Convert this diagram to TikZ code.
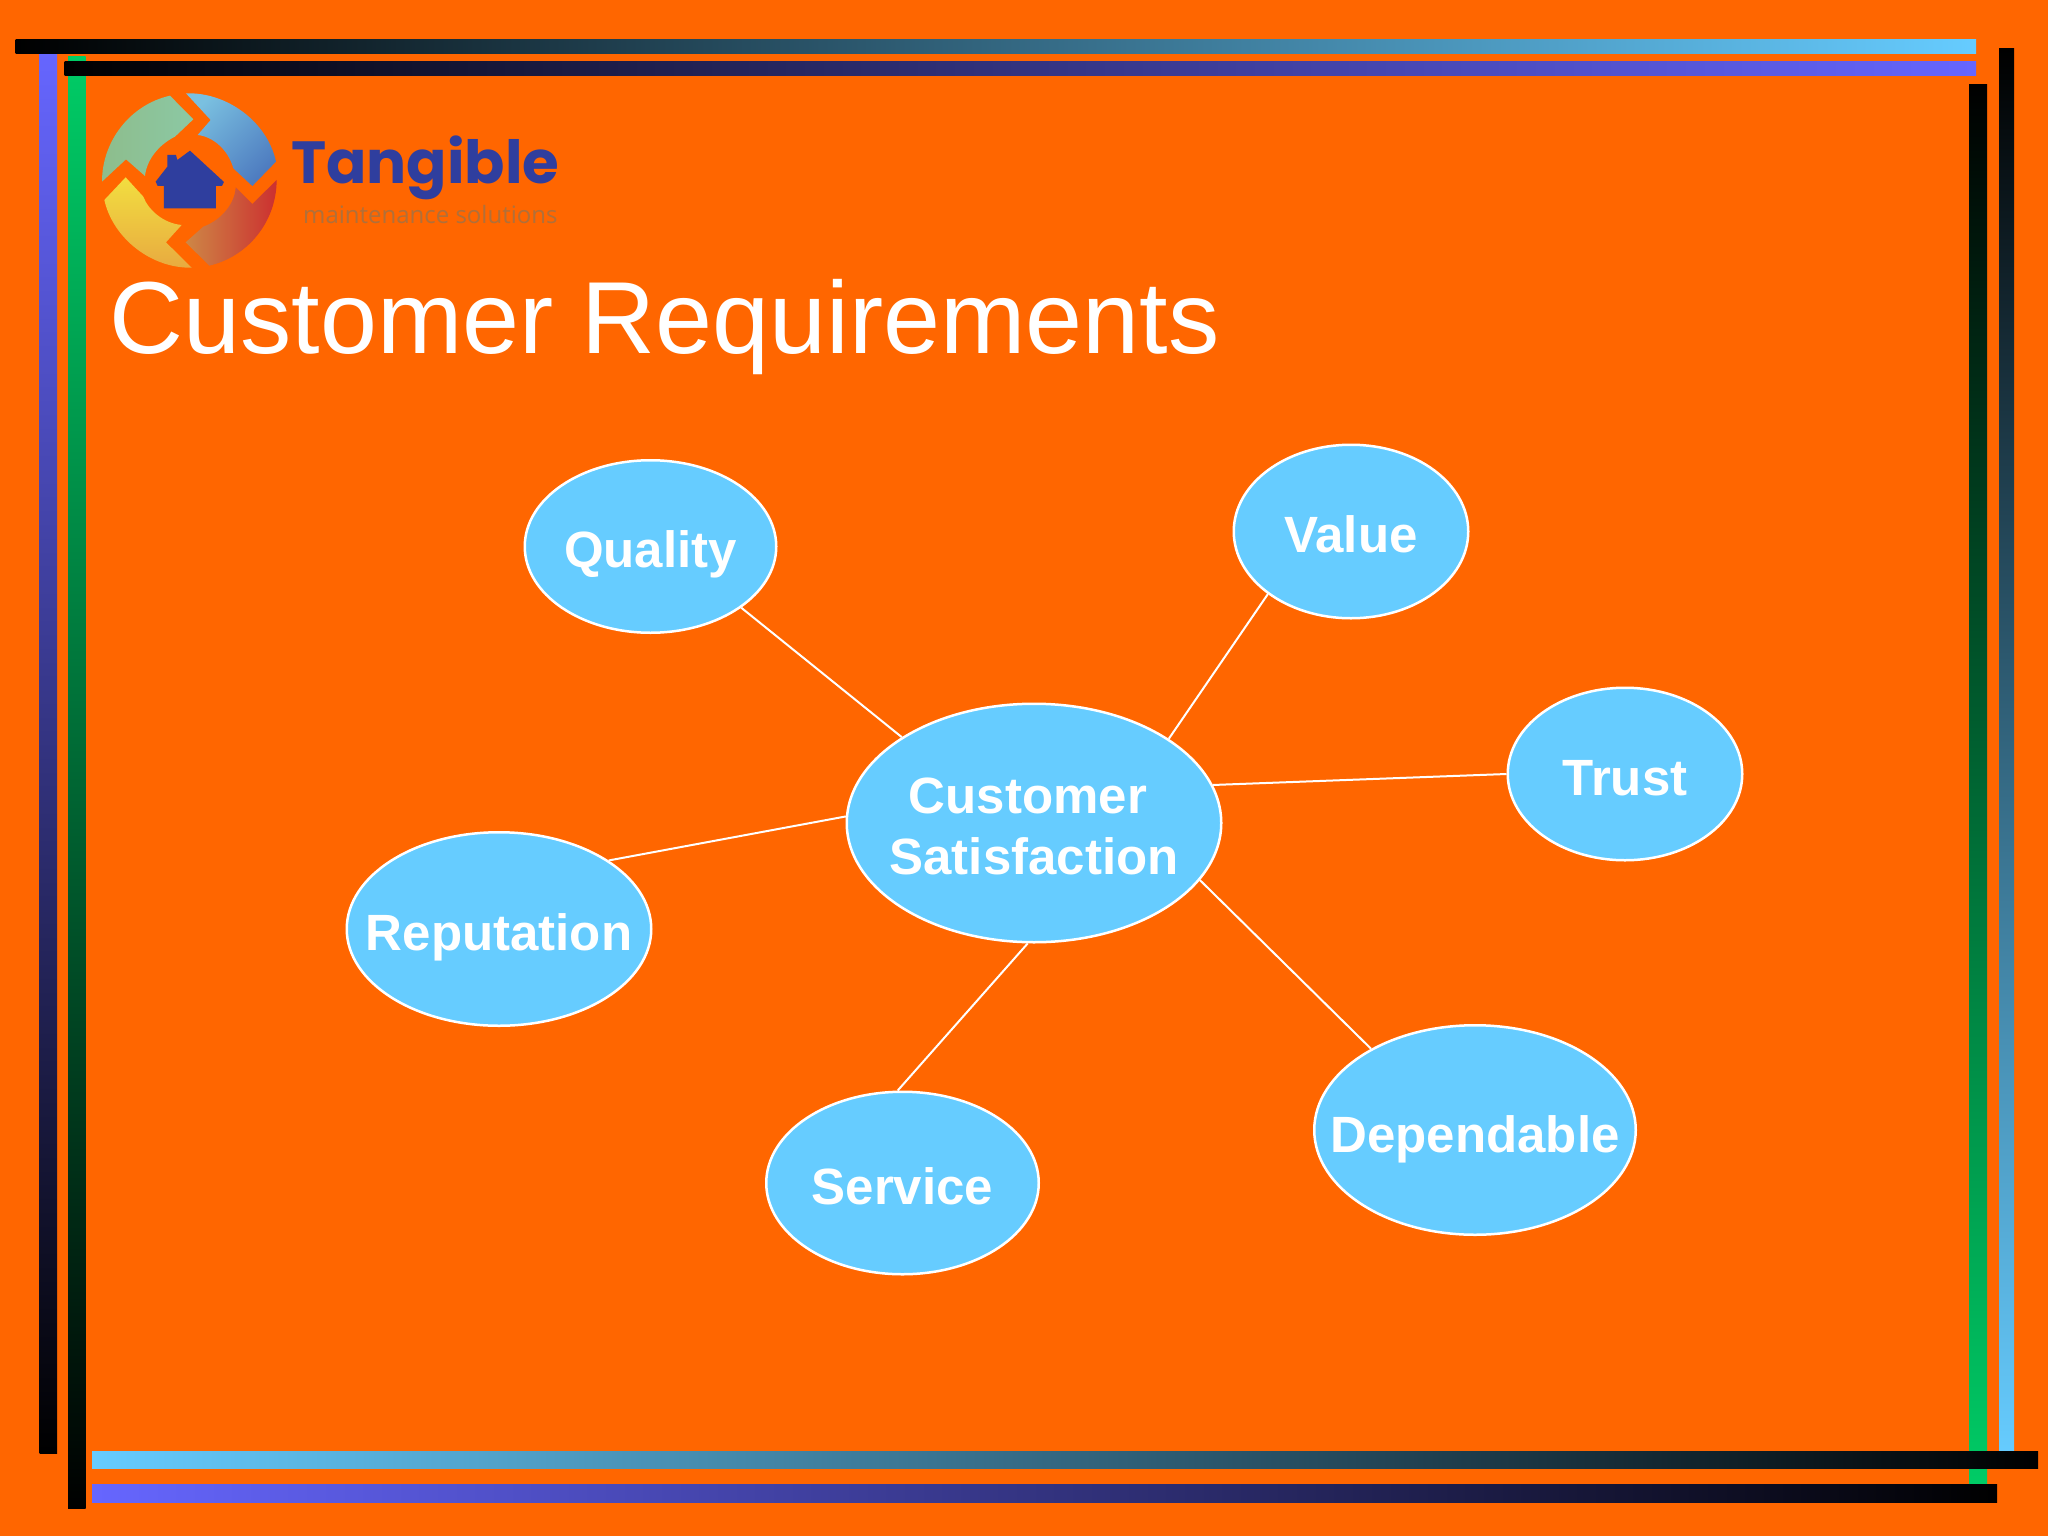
\documentclass[tikz,border=0pt]{standalone}
\usepackage{fontspec}
\setmainfont{Liberation Sans}
\newfontfamily\logofont{Poppins}
\newfontfamily\subfont{Open Sans}
\usetikzlibrary{shapes.geometric}
\definecolor{bgorange}{HTML}{FF6600}
\definecolor{sky}{HTML}{66CCFF}
\definecolor{violet}{HTML}{6666FF}
\definecolor{grn}{HTML}{00CC66}
\definecolor{navy}{HTML}{2F3E9E}
\definecolor{leafa}{HTML}{8DBD8C}
\definecolor{leafb}{HTML}{8CC8A4}
\definecolor{bluea}{HTML}{7AC0E0}
\definecolor{blueb}{HTML}{4E7CC0}
\definecolor{reda}{HTML}{CD8746}
\definecolor{redb}{HTML}{CC3030}
\definecolor{yela}{HTML}{F2DE40}
\definecolor{yelb}{HTML}{E8AA40}
\definecolor{tagc}{HTML}{B0703A}
\tikzset{
  oval/.style={ellipse,draw=white,line width=2.5pt,fill=sky,inner sep=0pt,text=white,
    font=\fontsize{51}{61}\selectfont\bfseries},
  link/.style={draw=white,line width=2pt},
}
% zero-sized label: x shift, baseline offset below the oval's centre, text
\newcommand{\lbl}[3]{\makebox[0pt]{\kern#1\raisebox{-#2}[0pt][0pt]{#3}\kern-#1}}
\begin{document}
\begin{tikzpicture}[x=1pt,y=-1pt]
\useasboundingbox (0,0) rectangle (2048,1536);
\fill[bgorange] (0,0) rectangle (2048,1536);
% frame
\shade[top color=violet,bottom color=black] (39.5,50) rectangle (57,1453);
\shade[top color=grn,bottom color=black] (68,57) rectangle (85.5,1508);
\shade[top color=black,bottom color=sky] (1999,49) rectangle (2014,1455);
\shade[top color=black,bottom color=grn] (1969,85) rectangle (1987,1486);
\shade[left color=black,right color=sky] (15.5,39.5) rectangle (1976,53.5);
\shade[left color=black,right color=violet] (64.5,62) rectangle (1976,76);
\shade[left color=sky,right color=black] (92,1451) rectangle (2038,1468);
\shade[left color=violet,right color=black] (92,1484) rectangle (1997,1502);
% logo
\begin{scope}[shift={(90,80)},x=0.3333pt,y=-0.3333pt]
\shade[left color=leafa,right color=leafb]
 (36,305) .. controls (36,183) and (121,74) .. (240,47) -- (310,118) -- (255,170) .. controls (205,195) and (170,240) .. (165,288) -- (108,238) -- cycle;
\shade[left color=bluea,right color=blueb,shading angle=45]
 (288,40) .. controls (411,36) and (532,125) .. (558,245) -- (487,318) -- (430,265) .. controls (415,210) and (370,170) .. (323,165) -- (362,120) -- cycle;
\shade[left color=reda,right color=redb]
 (560,300) .. controls (560,422) and (477,529) .. (358,557) -- (287,487) -- (340,440) .. controls (395,420) and (435,370) .. (437,322) -- (487,372) -- cycle;
\shade[top color=yela,bottom color=yelb]
 (107,292) -- (160,350) .. controls (175,390) and (220,430) .. (275,435) -- (228,487) -- (305,563) .. controls (186,566) and (69,476) .. (43,360) -- cycle;
\fill[navy] (222,385) -- (378,385) -- (378,318) -- (396,318) -- (402,306) -- (300,212) -- (262,240) -- (258,225) -- (232,225) -- (232,260) -- (197,305) -- (203,318) -- (222,318) -- cycle;
\end{scope}
\node[anchor=base west,inner sep=0pt,text=navy,font=\logofont\bfseries\fontsize{59.5}{60}\selectfont] (brand) at (291,183) {Tangible};
\node[anchor=base west,inner sep=0pt,text=tagc,font=\subfont\fontsize{24}{24}\selectfont] (tag) at (303,223) {maintenance solutions};
\node[anchor=base west,inner sep=0pt,text=white,font=\fontsize{102.4}{102.4}\selectfont] (title) at (109.5,353) {Customer Requirements};
% ovals
\node[oval,minimum width=374.5pt,minimum height=238.5pt] (c) at (1034,823) {\lbl{-6pt}{-10pt}{Customer}\lbl{0pt}{51pt}{Satisfaction}};
\node[oval,minimum width=251.5pt,minimum height=172.5pt] (q) at (650.5,546.5) {\lbl{0pt}{21pt}{Quality}};
\node[oval,minimum width=234.5pt,minimum height=173.5pt] (v) at (1351,531.5) {\lbl{0pt}{21pt}{Value}};
\node[oval,minimum width=234.5pt,minimum height=172.5pt] (t) at (1625,774) {\lbl{0pt}{21pt}{Trust}};
\node[oval,minimum width=304.5pt,minimum height=193.5pt] (r) at (499,929) {\lbl{0pt}{21pt}{Reputation}};
\node[oval,minimum width=272.5pt,minimum height=182.5pt] (s) at (902.5,1183) {\lbl{0pt}{21pt}{Service}};
\node[oval,minimum width=321.5pt,minimum height=209.5pt] (d) at (1475,1130) {\lbl{0pt}{22pt}{Dependable}};
% connectors
\draw[link] (q.-34.6) -- (c.147.4);
\draw[link] (v.217.5) -- (c.32.6);
\draw[link] (t.180) -- (c.12.2);
\draw[link] (d.142) -- (c.-19.4);
\draw[link] (s.93.4) -- (c.-93);
\draw[link] (r.32.2) -- (c.178.3);
\end{tikzpicture}
\end{document}
